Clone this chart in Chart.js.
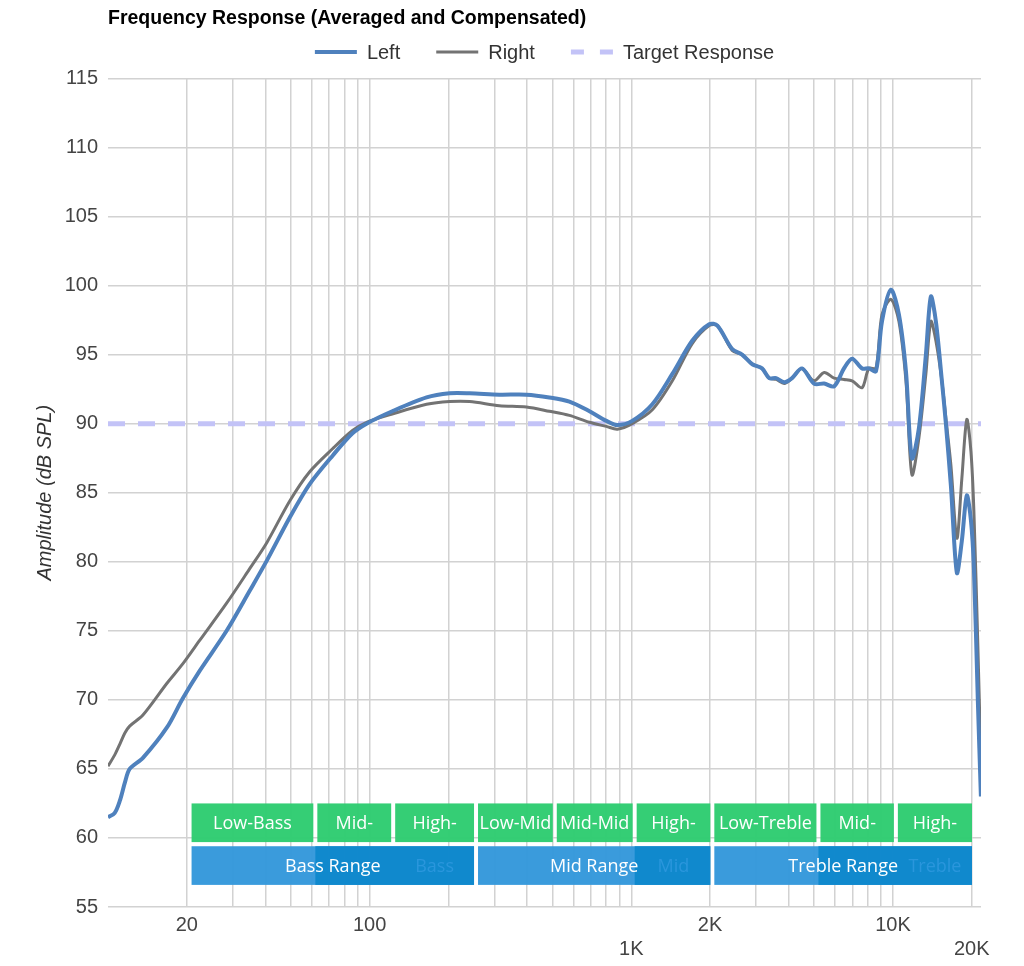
<!DOCTYPE html>
<html>
<head>
<title>Frequency Response (Averaged and Compensated)</title>
<script src="https://cdn.jsdelivr.net/npm/chart.js"></script>
<style>
  html, body { margin: 0; padding: 0; background: #fff; }
</style>
</head>
<body>
<canvas id="chart" width="1024" height="966"></canvas>
<script>
// frequencies (Hz), shared by both channels
const freqHz = [10, 10.6, 11.1, 11.6, 12.1, 13.6, 16.8, 19.3, 22.4, 28.4, 34.8, 40.5, 49.5, 58.9, 72.3, 86, 97.3,
  122, 165, 202, 241, 313, 397, 486, 580, 692, 803, 885, 1008, 1203, 1435, 1709, 1985, 2133, 2430, 2650, 2900,
  3160, 3365, 3575, 3840, 4115, 4490, 4990, 5460, 5960, 6500, 6980, 7620, 8090, 8610, 9080, 9820, 10540, 11210,
  11815, 12570, 13360, 13960, 14590, 15380, 15930, 16650, 17550, 18330, 19150, 19860, 20380, 21100, 21680];
const leftDb = [61.5, 61.8, 62.7, 64.0, 65.0, 65.8, 68.0, 70.1, 72.1, 75.0, 77.9, 80.1, 83.2, 85.6, 87.7, 89.3, 90.0,
  90.9, 91.9, 92.2, 92.2, 92.1, 92.1, 91.9, 91.6, 90.9, 90.2, 89.9, 90.2, 91.4, 93.6, 96.0, 97.2, 97.1, 95.4, 95.0, 94.3,
  94.0, 93.3, 93.3, 93.0, 93.3, 94.0, 92.9, 92.9, 92.7, 94.0, 94.7, 94.0, 94.0, 93.8, 97.4, 99.7, 97.9, 93.8,
  87.5, 89.7, 95.0, 99.2, 97.4, 93.1, 90.0, 85.5, 79.2, 81.5, 84.8, 83.0, 79.6, 70.0, 63.0];
const rightDb = [65.2, 66.0, 66.8, 67.6, 68.1, 68.9, 71.2, 72.6, 74.3, 77.0, 79.5, 81.4, 84.4, 86.5, 88.2, 89.5, 90.1,
  90.7, 91.4, 91.6, 91.6, 91.3, 91.2, 90.9, 90.6, 90.1, 89.8, 89.6, 90.0, 91.0, 93.1, 95.8, 97.1, 97.1, 95.3, 95.0, 94.3,
  94.0, 93.3, 93.2, 92.9, 93.3, 94.0, 93.1, 93.7, 93.3, 93.2, 93.1, 92.6, 94.0, 94.0, 97.9, 99.0, 97.4, 93.1,
  86.3, 89.0, 93.6, 97.4, 96.0, 93.1, 90.4, 87.0, 81.7, 86.0, 90.3, 88.0, 83.7, 74.0, 65.5];
const targetHz = [10, 21700];
const targetDb = [90, 90];

const xTicks = [20, 30, 40, 50, 60, 70, 80, 90, 100, 200, 300, 400, 500, 600, 700, 800, 900,
  1000, 2000, 3000, 4000, 5000, 6000, 7000, 8000, 9000, 10000, 20000];
const xTickLabels = { 20: '20', 100: '100', 1000: ['', '1K'], 2000: '2K', 10000: '10K', 20000: ['', '20K'] };

const bandNames = ['Low-Bass', 'Mid-', 'High-', 'Low-Mid', 'Mid-Mid', 'High-', 'Low-Treble', 'Mid-', 'High-'];
const bandEdges = [20.5, 62, 123, 255, 510, 1030, 2040, 5190, 10260, 20400];
const rangeNames = ['Bass Range', 'Mid Range', 'Treble Range'];
const rangeEdges = [20.5, 255, 2040, 20400];
const rangeShadeFrom = [62, 1030, 5190];
const rangeShadeText = ['Bass', 'Mid', 'Treble'];

const FONT = '"Liberation Sans", Arial, sans-serif';

const bandsPlugin = {
  id: 'bands',
  beforeDatasetsDraw(chart) {
    const { ctx, scales: { x, y } } = chart;
    const gTop = y.getPixelForValue(62.5), gBot = y.getPixelForValue(59.7);
    const bTop = y.getPixelForValue(59.4), bBot = y.getPixelForValue(56.6);
    ctx.save();
    ctx.textAlign = 'center';
    ctx.textBaseline = 'middle';
    ctx.font = '18px "Open Sans", sans-serif';
    // green row
    bandNames.forEach((name, i) => {
      const x0 = x.getPixelForValue(bandEdges[i]) + 2;
      const x1 = x.getPixelForValue(bandEdges[i + 1]) - 2;
      ctx.globalAlpha = 0.97;
      ctx.fillStyle = '#2ecc71';
      ctx.fillRect(x0, gTop, x1 - x0, gBot - gTop);
      ctx.globalAlpha = 1;
      ctx.fillStyle = '#fff';
      ctx.fillText(name, (x0 + x1) / 2, (gTop + gBot) / 2 + 1);
    });
    // blue row
    rangeNames.forEach((name, i) => {
      const x0 = x.getPixelForValue(rangeEdges[i]) + 2;
      const x1 = x.getPixelForValue(rangeEdges[i + 1]) - 2;
      const xs = x.getPixelForValue(rangeShadeFrom[i]);
      ctx.globalAlpha = 0.97;
      ctx.fillStyle = '#3498db';
      ctx.fillRect(x0, bTop, x1 - x0, bBot - bTop);
      ctx.fillStyle = '#0f88cc';
      ctx.fillRect(xs, bTop, x1 - xs, bBot - bTop);
      ctx.globalAlpha = 1;
      const hi = i * 3 + 2;
      const hx = (x.getPixelForValue(bandEdges[hi]) + x.getPixelForValue(bandEdges[hi + 1])) / 2;
      ctx.fillStyle = '#2a96dc';
      ctx.fillText(rangeShadeText[i], hx, (bTop + bBot) / 2 + 1);
      ctx.fillStyle = '#fff';
      ctx.fillText(name, (x0 + x1) / 2, (bTop + bBot) / 2 + 1);
    });
    ctx.restore();
  }
};

const legendPlugin = {
  id: 'lineLegend',
  afterDraw(chart) {
    const { ctx, chartArea } = chart;
    const lineLen = 42, textGap = 10, itemGap = 36, yMid = 52;
    ctx.save();
    ctx.font = '20px ' + FONT;
    const items = chart.data.datasets.map(ds => ({ ds, w: ctx.measureText(ds.label).width }));
    const total = items.reduce((s, it) => s + lineLen + textGap + it.w, 0) + itemGap * (items.length - 1);
    let cx = (chartArea.left + chartArea.right) / 2 - total / 2;
    items.forEach(({ ds, w }) => {
      ctx.beginPath();
      ctx.strokeStyle = ds.borderColor;
      ctx.lineWidth = ds.borderWidth;
      ctx.setLineDash(ds.borderDash ? [13, 16] : []);
      ctx.moveTo(cx, yMid);
      ctx.lineTo(cx + lineLen, yMid);
      ctx.stroke();
      ctx.setLineDash([]);
      ctx.fillStyle = '#333';
      ctx.textBaseline = 'middle';
      ctx.textAlign = 'left';
      ctx.fillText(ds.label, cx + lineLen + textGap, yMid + 1);
      cx += lineLen + textGap + w + itemGap;
    });
    ctx.restore();
  }
};

const pts = (xs, ys) => xs.map((f, i) => ({ x: f, y: ys[i] }));

new Chart(document.getElementById('chart').getContext('2d'), {
  type: 'line',
  data: {
    datasets: [
      { label: 'Left', data: pts(freqHz, leftDb), borderColor: '#4f81bd', borderWidth: 4,
        pointRadius: 0, tension: 0.3 },
      { label: 'Right', data: pts(freqHz, rightDb), borderColor: '#737373', borderWidth: 3,
        pointRadius: 0, tension: 0.3 },
      { label: 'Target Response', data: pts(targetHz, targetDb), borderColor: '#c3c3f7', borderWidth: 5,
        borderDash: [17, 13], pointRadius: 0 }
    ]
  },
  options: {
    responsive: false,
    animation: false,
    layout: { padding: { left: 0, right: 43, top: 0, bottom: 5 } },
    plugins: {
      legend: { display: false },
      tooltip: { enabled: false },
      title: {
        display: true,
        text: 'Frequency Response (Averaged and Compensated)',
        align: 'start',
        fullSize: false,
        color: '#000',
        font: { family: FONT, size: 19.5, weight: 'bold', lineHeight: 1.2 },
        padding: { top: 7, bottom: 48 }
      }
    },
    scales: {
      x: {
        type: 'logarithmic',
        min: 10,
        max: 21700,
        afterBuildTicks: s => { s.ticks = xTicks.map(v => ({ value: v })); },
        afterFit: s => { s.height = 54; },
        ticks: {
          autoSkip: false, maxRotation: 0, padding: 6, color: '#444',
          font: { family: FONT, size: 20, lineHeight: 1.2 },
          callback: v => xTickLabels[v] ?? ''
        },
        grid: { color: '#d2d2d2', lineWidth: 1.5, drawTicks: false },
        border: { display: false }
      },
      y: {
        min: 55,
        max: 115,
        afterFit: s => { s.width = 108; },
        ticks: { stepSize: 5, padding: 10, color: '#444', font: { family: FONT, size: 20 } },
        grid: { color: '#d2d2d2', lineWidth: 1.5, drawTicks: false },
        border: { display: false },
        title: {
          display: true, text: 'Amplitude (dB SPL)', color: '#333',
          font: { family: FONT, size: 20, style: 'italic', lineHeight: 1.2 },
          padding: { top: 33, bottom: 0 }
        }
      }
    }
  },
  plugins: [bandsPlugin, legendPlugin]
});
</script>
</body>
</html>
